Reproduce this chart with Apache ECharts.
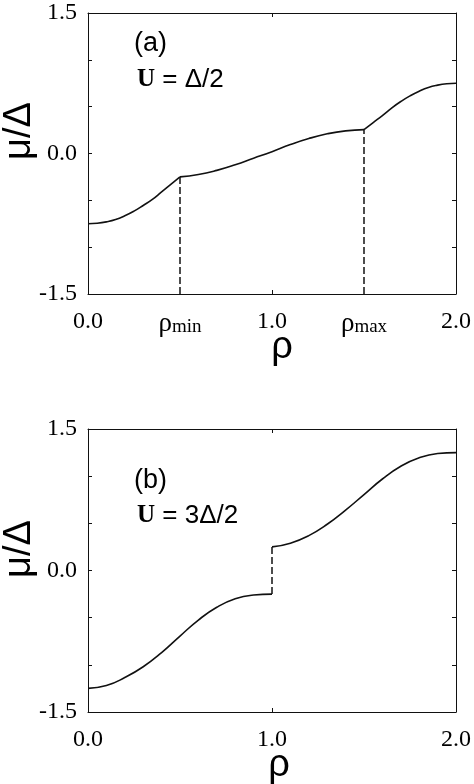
<!DOCTYPE html>
<html>
<head>
<meta charset="utf-8">
<script src="https://cdn.jsdelivr.net/npm/echarts@6/dist/echarts.min.js"></script>
<style>
  html, body { margin: 0; padding: 0; background: #fff; }
  #chart { width: 474px; height: 784px; }
</style>
</head>
<body>
<div id="chart"></div>
<script>
// panel (a): U = Δ/2, three branches joined at ρmin and ρmax
var rhoA1 = [0, 0.05, 0.1, 0.15, 0.2, 0.25, 0.3, 0.35, 0.4, 0.45, 0.5]
var muA1  = [-0.75, -0.745, -0.73, -0.705, -0.665, -0.615, -0.555, -0.49, -0.41, -0.33, -0.25]
var rhoA2 = [0.5, 0.6, 0.7, 0.8, 0.9, 1.0, 1.1, 1.2, 1.3, 1.4, 1.5]
var muA2  = [-0.25, -0.225, -0.18, -0.12, -0.05, 0.02, 0.095, 0.16, 0.21, 0.242, 0.255]
var rhoA3 = [1.5, 1.55, 1.6, 1.65, 1.7, 1.75, 1.8, 1.85, 1.9, 1.95, 2.0]
var muA3  = [0.255, 0.33, 0.405, 0.485, 0.555, 0.615, 0.665, 0.705, 0.73, 0.745, 0.75]
var dashRhoA = [0.5, 1.5]
var dashTopA = [-0.25, 0.255]

// panel (b): U = 3Δ/2, jump at ρ = 1
var rhoB1 = [0, 0.1, 0.2, 0.3, 0.4, 0.5, 0.6, 0.7, 0.8, 0.9, 1.0]
var muB1  = [-1.25, -1.22, -1.135, -1.02, -0.87, -0.695, -0.525, -0.39, -0.30, -0.26, -0.25]
var rhoB2 = [1.0, 1.1, 1.2, 1.3, 1.4, 1.5, 1.6, 1.7, 1.8, 1.9, 2.0]
var muB2  = [0.25, 0.29, 0.37, 0.49, 0.64, 0.805, 0.97, 1.105, 1.195, 1.24, 1.25]
var dashRhoB = [1.0]
var dashLowB = [-0.25]
var dashTopB = [0.25]

var xLabelsA = { 0: '0.0', 0.5: '{r|ρ}{s|min}', 1: '1.0', 1.5: '{r|ρ}{s|max}', 2: '2.0' }
var xLabelsB = { 0: '0.0', 1: '1.0', 2: '2.0' }
var yLabels  = { '-1.5': '-1.5', '0': '0.0', '1.5': '1.5' }

var SERIF = 'Liberation Serif'
var SANS  = 'Liberation Sans'
var INK   = '#111'

var chart = echarts.init(document.getElementById('chart'), null, { renderer: 'canvas' })

function pairs(xs, ys) {
  return xs.map(function(x, i) { return [x, ys[i]] })
}

function curve(grid, xs, ys) {
  return {
    type: 'line', xAxisIndex: grid * 3, yAxisIndex: grid * 2,
    data: pairs(xs, ys), showSymbol: false, smooth: true,
    lineStyle: { color: INK, width: 1.6 }, animation: false, silent: true
  }
}

function dashed(grid, x, y0, y1) {
  return {
    type: 'line', xAxisIndex: grid * 3, yAxisIndex: grid * 2,
    data: [[x, y0], [x, y1]], showSymbol: false,
    lineStyle: { color: INK, width: 1.5, type: [7, 3] }, animation: false, silent: true
  }
}

function xAxes(grid, labels) {
  var base = { gridIndex: grid, type: 'value', min: 0, max: 2, splitLine: { show: false } }
  return [
    Object.assign({}, base, {
      interval: 0.5, position: 'bottom',
      axisLine: { show: true, onZero: false, lineStyle: { color: INK, width: 1 } },
      axisTick: { show: false },
      axisLabel: {
        margin: 16, color: '#000', fontFamily: SERIF, fontSize: 24,
        formatter: function(v) { return labels[v] || '' },
        rich: {
          r: { fontFamily: SERIF, fontSize: 27, color: '#000' },
          s: { fontFamily: SERIF, fontSize: 19, color: '#000', verticalAlign: 'bottom', padding: [6, 0, 0, 0] }
        }
      }
    }),
    Object.assign({}, base, {
      interval: 1, position: 'bottom',
      axisLine: { show: false, onZero: false },
      axisTick: { show: true, inside: true, length: 4, lineStyle: { color: INK } },
      axisLabel: { show: false }
    }),
    Object.assign({}, base, {
      interval: 1, position: 'top',
      axisLine: { show: true, onZero: false, lineStyle: { color: INK, width: 1 } },
      axisTick: { show: true, inside: true, length: 4, lineStyle: { color: INK } },
      axisLabel: { show: false }
    })
  ]
}

function yAxes(grid) {
  var base = {
    gridIndex: grid, type: 'value', min: -1.5, max: 1.5, interval: 0.5,
    splitLine: { show: false },
    axisLine: { show: true, onZero: false, lineStyle: { color: INK, width: 1 } },
    axisTick: { show: true, inside: true, length: 4, lineStyle: { color: INK } }
  }
  return [
    Object.assign({}, base, {
      position: 'left',
      axisLabel: {
        margin: 11, color: '#000', fontFamily: SERIF, fontSize: 24,
        formatter: function(v) { return yLabels[String(v)] || '' }
      }
    }),
    Object.assign({}, base, { position: 'right', axisLabel: { show: false } })
  ]
}

function note(x, y, text, size) {
  return { type: 'text', x: x, y: y, silent: true,
    style: { text: text, fontFamily: SANS, fontSize: size, fill: '#000' } }
}

function uLabel(x, y, rest) {
  return { type: 'text', x: x, y: y, silent: true,
    style: {
      text: '{u|U}{t|' + rest + '}',
      rich: {
        u: { fontFamily: SERIF, fontWeight: 'bold', fontSize: 25, fill: '#000' },
        t: { fontFamily: SANS, fontSize: 26, fill: '#000' }
      }
    } }
}

function yTitle(x, y) {
  return { type: 'text', x: x, y: y, rotation: Math.PI / 2, silent: true,
    style: { text: 'μ/Δ', fontFamily: SANS, fontSize: 38, fill: '#000', align: 'center', verticalAlign: 'middle' } }
}

function xTitle(x, y) {
  return { type: 'text', x: x, y: y, silent: true,
    style: { text: 'ρ', fontFamily: SANS, fontSize: 38, fill: '#000', align: 'center', verticalAlign: 'middle' } }
}

var series = [
  curve(0, rhoA1, muA1), curve(0, rhoA2, muA2), curve(0, rhoA3, muA3),
  curve(1, rhoB1, muB1), curve(1, rhoB2, muB2)
]
dashRhoA.forEach(function(x, i) { series.push(dashed(0, x, -1.5, dashTopA[i])) })
dashRhoB.forEach(function(x, i) { series.push(dashed(1, x, dashLowB[i], dashTopB[i])) })

chart.setOption({
  backgroundColor: '#fff',
  animation: false,
  grid: [
    { left: 88, top: 13, width: 370, height: 281 },
    { left: 88, top: 429, width: 370, height: 283 }
  ],
  xAxis: xAxes(0, xLabelsA).concat(xAxes(1, xLabelsB)),
  yAxis: yAxes(0).concat(yAxes(1)),
  series: series,
  graphic: [
    note(134, 30, '(a)', 27),
    uLabel(137, 67, ' = Δ/2'),
    note(134, 467, '(b)', 27),
    uLabel(137, 503, ' = 3Δ/2'),
    yTitle(20, 131),
    yTitle(20, 549),
    xTitle(282, 348),
    xTitle(279, 766)
  ]
})

window.addEventListener('resize', function() { chart.resize() })
</script>
</body>
</html>
